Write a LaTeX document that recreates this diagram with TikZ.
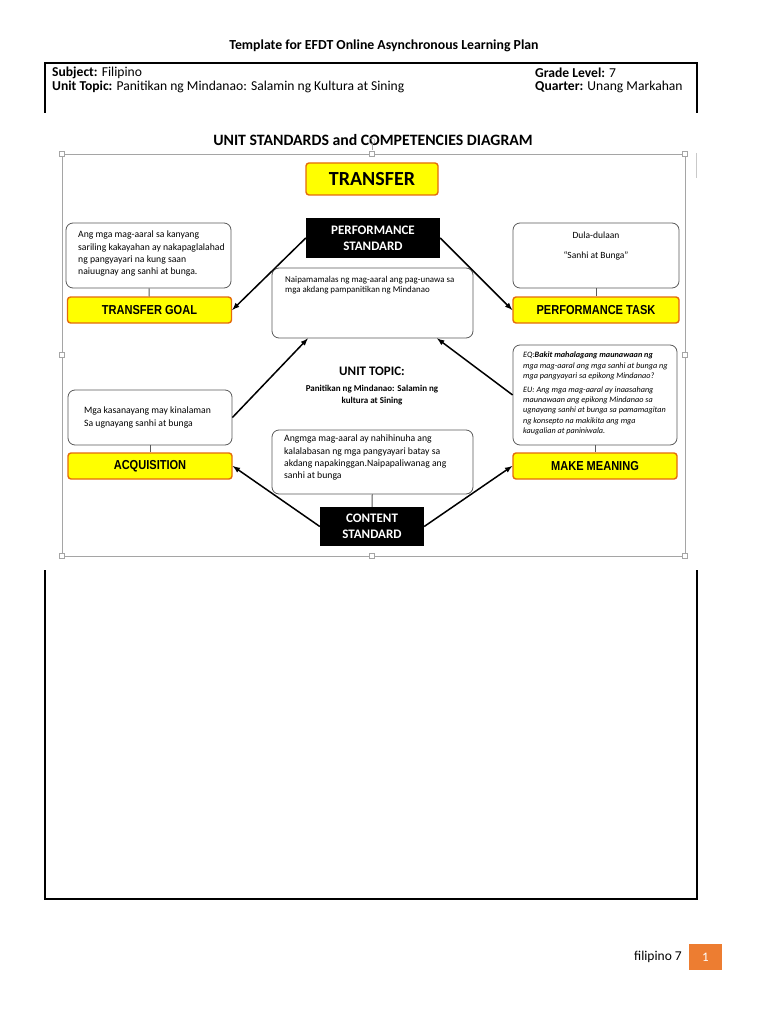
\documentclass[tikz,border=0pt]{standalone}
\usepackage{fontspec}
\setmainfont{Carlito}
\newfontfamily\narrowfont[FakeStretch=0.85]{Liberation Sans}
\usepackage{tikz}
\usetikzlibrary{arrows,positioning,calc}
\usepackage{xcolor}
\definecolor{boxyellow}{RGB}{255,255,0}
\definecolor{boxorange}{RGB}{228,108,10}
\definecolor{boxgray}{RGB}{90,90,90}
\definecolor{framegray}{RGB}{165,165,165}
\definecolor{pageorange}{RGB}{237,125,49}

\tikzset{
  yellowbox/.style={draw=boxorange,line width=1.4pt,fill=boxyellow,rounded corners=3pt,
    minimum width=164pt,minimum height=26pt,inner sep=0pt,
    font=\narrowfont\bfseries\fontsize{13}{15}\selectfont},
  blackbox/.style={fill=black,text=white,align=center,inner sep=0pt,
    font=\bfseries\fontsize{13}{16}\selectfont},
  textbox/.style={draw=boxgray,line width=0.8pt,rounded corners=7pt,fill=white,inner sep=0pt},
  boxtext/.style={anchor=north west,align=left,inner sep=0pt,font=\fontsize{9.7}{12.3}\selectfont},
  arrowline/.style={-latex,line width=1.5pt},
  stub/.style={line width=1pt,draw=boxgray},
  handle/.style={draw=framegray,fill=white,minimum size=5pt,inner sep=0pt},
}

\begin{document}
\begin{tikzpicture}[x=1pt,y=-1pt]
\useasboundingbox[fill=white] (0,0) rectangle (768,1024);

% page header and table
\node[font=\bfseries\fontsize{13.8}{16}\selectfont] (doctitle) at (384,46) {Template for EFDT Online Asynchronous Learning Plan};
\draw[line width=1.2pt] (45,899) -- (45,63) -- (697,63) -- (697,899) -- cycle;
\node[anchor=west,inner sep=0pt,font=\fontsize{13.6}{16}\selectfont] (subject) at (52,72.5) {\textbf{Subject:} Filipino};
\node[anchor=west,inner sep=0pt,font=\fontsize{13.6}{16}\selectfont] (unittopic) at (52,86.5) {\textbf{Unit Topic:} Panitikan ng Mindanao: Salamin ng Kultura at Sining};
\node[anchor=west,inner sep=0pt,font=\fontsize{13.6}{16}\selectfont] (grade) at (535,72.5) {\textbf{Grade Level:} 7};
\node[anchor=west,inner sep=0pt,font=\fontsize{13.6}{16}\selectfont] (quarter) at (535,86.5) {\textbf{Quarter:} Unang Markahan};

% pasted picture
\fill[white] (40,113) rectangle (702,570);
\draw[framegray!60,line width=0.8pt] (696,153) -- (696,178);
\draw[framegray,line width=0.6pt] (62,154) rectangle (685,556);
\node[font=\bfseries\fontsize{15.8}{18}\selectfont] (diagtitle) at (373,140) {UNIT STANDARDS and COMPETENCIES DIAGRAM};
\draw[framegray,line width=0.6pt] (372,144) -- (372,150);
\node[draw=framegray,circle,minimum size=6pt,inner sep=0pt,line width=0.6pt] (rotate) at (372,141) {};
\foreach \hx/\hy in {62/154,372/154,685/154,62/355,685/355,62/556,372/556,685/556}
  \node[handle] at (\hx,\hy) {};

% top
\node[yellowbox,minimum width=132pt,minimum height=32pt,font=\bfseries\fontsize{20}{22}\selectfont] (transfer) at (372,179) {TRANSFER};
\node[blackbox,minimum width=134pt,minimum height=40pt] (perfstd) at (373,238) {PERFORMANCE\\STANDARD};
\node[textbox,minimum width=201pt,minimum height=70pt] (pstext) at (372.5,303) {};
\node[boxtext,font=\fontsize{8.9}{10}\selectfont] (pslines) at (285,276) {Naipamamalas ng mag-aaral ang pag-unawa sa\\mga akdang pampanitikan ng Mindanao};

% left side
\node[textbox,minimum width=165pt,minimum height=65pt] (tgbox) at (148.5,255.5) {};
\node[boxtext] (tglines) at (78,231) {Ang mga mag-aaral sa kanyang\\sariling kakayahan ay nakapaglalahad\\ng pangyayari na kung saan\\naiuugnay ang sanhi at bunga.};
\node[yellowbox] (tgoal) at (149.5,310) {TRANSFER GOAL};
\draw[stub] (tgbox) -- (tgoal);

\node[textbox,minimum width=164pt,minimum height=55pt] (acqbox) at (150,417.5) {};
\node[boxtext] (acqlines) at (84,407) {Mga kasanayang may kinalaman\\Sa ugnayang sanhi at bunga};
\node[yellowbox] (acq) at (150,466) {ACQUISITION};
\draw[stub] (acqbox) -- (acq);

% right side
\node[textbox,minimum width=166pt,minimum height=65pt] (ptbox) at (596,255.5) {};
\node[boxtext,anchor=north,align=center,font=\fontsize{9.5}{20}\selectfont] (ptlines) at (596,232) {Dula-dulaan\\``Sanhi at Bunga''};
\node[yellowbox,minimum width=166pt] (ptask) at (596,310) {PERFORMANCE TASK};
\draw[stub] (ptbox) -- (ptask);

\node[textbox,minimum width=164pt,minimum height=100pt] (mmbox) at (595,395) {};
\node[boxtext,font=\itshape\fontsize{8.2}{10.4}\selectfont] (mmlines) at (523,352) {EQ:\textbf{Bakit mahalagang maunawaan ng}\\mga mag-aaral ang mga sanhi at bunga ng\\mga pangyayari sa epikong Mindanao?\\[3pt]EU: Ang mga mag-aaral ay inaasahang\\maunawaan ang epikong Mindanao sa\\ugnayang sanhi at bunga sa pamamagitan\\ng konsepto na makikita ang mga\\kaugalian at paniniwala.};
\node[yellowbox] (mmeaning) at (595,466) {MAKE MEANING};
\draw[stub] (mmbox) -- (mmeaning);

% centre and bottom
\node[font=\bfseries\fontsize{13}{15}\selectfont] (topichead) at (372,371) {UNIT TOPIC:};
\node[align=center,font=\bfseries\fontsize{9}{12}\selectfont] (topicname) at (372,395) {Panitikan ng Mindanao: Salamin ng\\kultura at Sining};
\node[textbox,minimum width=201pt,minimum height=64pt] (cstext) at (372.5,462) {};
\node[boxtext] (cslines) at (284,435) {Angmga mag-aaral ay nahihinuha ang\\kalalabasan ng mga pangyayari batay sa\\akdang napakinggan.Naipapaliwanag ang\\sanhi at bunga};
\node[blackbox,minimum width=104pt,minimum height=39pt] (contstd) at (372,526.5) {CONTENT\\STANDARD};
\draw[stub] (cstext) -- (contstd);

% arrows
\draw[arrowline] (perfstd.west) -- (tgoal.east);
\draw[arrowline] (perfstd.east) -- (ptask.west);
\draw[arrowline] (acqbox.east) -- ($(pstext.south west)!0.18!(pstext.south east)$);
\draw[arrowline] (mmbox.west) -- ($(pstext.south west)!0.82!(pstext.south east)$);
\draw[arrowline] (contstd.west) -- (acq.east);
\draw[arrowline] (contstd.east) -- (mmeaning.west);

% footer
\node[anchor=east,inner sep=0pt,font=\fontsize{13.5}{15}\selectfont] (footer) at (682,957) {filipino 7};
\node[fill=pageorange,text=white,minimum width=33pt,minimum height=26pt,inner sep=0pt,font=\fontsize{13}{15}\selectfont] (pagenum) at (705.5,957) {1};
\end{tikzpicture}
\end{document}
